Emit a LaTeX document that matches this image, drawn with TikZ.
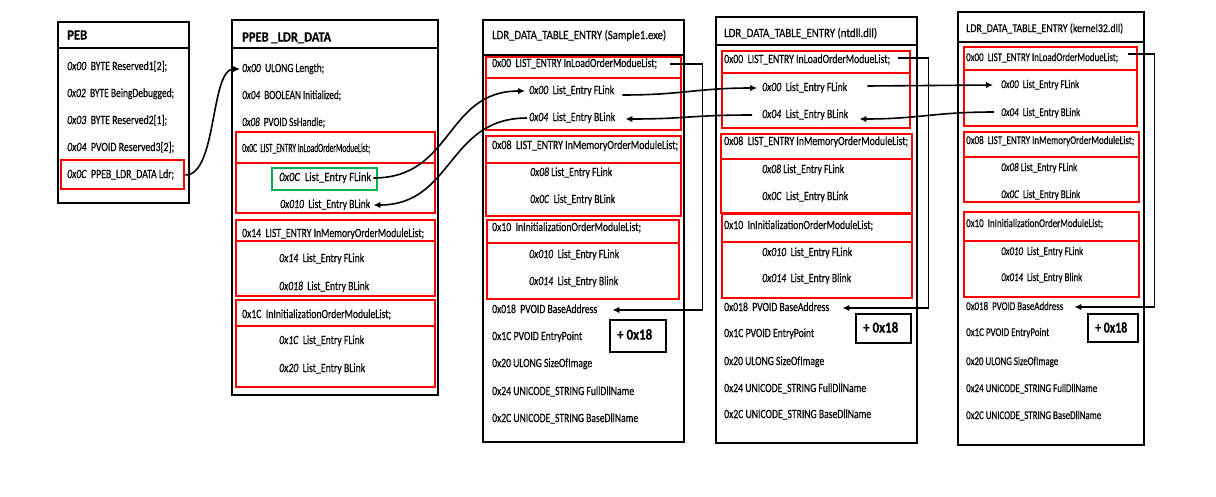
\documentclass[tikz,border=0pt]{standalone}
\usepackage{fontspec}
\setmainfont{Carlito}[FakeBold=0.35]
\usepackage{graphicx}
\usetikzlibrary{arrows.meta}
\newcommand{\fw}[2]{\resizebox{#1pt}{\height}{#2}}
\definecolor{rbox}{RGB}{255,0,0}
\definecolor{gbox}{RGB}{0,176,80}
\begin{document}
\begin{tikzpicture}[x=1pt,y=-1pt,
 txt/.style={anchor=west,inner sep=0pt,text height=8.5pt,text depth=2.5pt,yshift=-1pt,font=\fontsize{12.5}{14}\selectfont},
 ktxt/.style={txt,font=\fontsize{11.8}{13}\selectfont},
 ttl/.style={anchor=west,inner sep=0pt,text height=9.5pt,text depth=2.5pt,yshift=-1pt,font=\fontsize{14}{16}\selectfont\bfseries},
 plus/.style={anchor=west,inner sep=0pt,text height=9.5pt,text depth=2.5pt,yshift=-1pt,font=\fontsize{15}{17}\selectfont\bfseries},
 outer/.style={draw=black,line width=1.6pt},
 hline/.style={draw=black,line width=2.2pt},
 redb/.style={draw=rbox,line width=1.4pt},
 grnb/.style={draw=gbox,line width=2.4pt},
 pbox/.style={draw=black,line width=1.2pt},
 arr/.style={draw=black,line width=1.6pt,-{Latex[length=7pt,width=6.5pt]}},
 route/.style={draw=black,line width=1.4pt,-{Latex[length=7pt,width=6.5pt]}}]
\useasboundingbox (0,0) rectangle (1216,496);
\fill[white] (0,0) rectangle (1216,496);

% ---------------- PEB ----------------
\draw[outer] (58,22) rectangle (189,203);
\draw[hline] (58,48) -- (189,48);
\node[ttl] (pebt) at (67,35) {\fw{20}{PEB}};
\node[txt] (pebr1) at (67,66) {\fw{100}{\textit{0x00}\ \ BYTE Reserved1[2];}};
\node[txt] (pebr2) at (67,93) {\fw{107}{\textit{0x02}\ \ BYTE BeingDebugged;}};
\node[txt] (pebr3) at (67,120) {\fw{100}{\textit{0x03}\ \ BYTE Reserved2[1];}};
\node[txt] (pebr4) at (67,147) {\fw{107}{\textit{0x04}\ \ PVOID Reserved3[2];}};
\draw[redb] (61,160) rectangle (184,189);
\node[txt] (pebr5) at (67,174) {\fw{107}{\textit{0x0C}\ \ PPEB\_LDR\_DATA Ldr;}};

% ---------------- PPEB_LDR_DATA ----------------
\draw[outer] (232,20) rectangle (438,395);
\draw[hline] (232,48) -- (438,48);
\node[ttl] (ppt) at (242,37) {\fw{89}{PPEB \_LDR\_DATA}};
\node[txt] (pp1) at (242,68) {\fw{82}{\textit{0x00}\ \ ULONG Length;}};
\node[txt] (pp2) at (242,95) {\fw{99}{\textit{0x04}\ \ BOOLEAN Initialized;}};
\node[txt] (pp3) at (242,122) {\fw{83}{\textit{0x08}\ \ PVOID SsHandle;}};
\draw[redb] (236,132) rectangle (435,163);
\draw[redb] (236,163) rectangle (435,213);
\node[txt] (pph1) at (242,148) {\fw{128}{0x0C\ \ LIST\_ENTRY InLoadOrderModueList;}};
\draw[grnb] (272,168) rectangle (377,190);
\node[txt] (ppf1) at (279,177) {\fw{92}{\textit{0x0C}\ \ List\_Entry FLink}};
\node[txt] (ppb1) at (280,204) {\fw{90}{\textit{0x010}\ \ List\_Entry BLink}};
\draw[redb] (236,220) rectangle (435,241);
\draw[redb] (236,241) rectangle (435,296);
\node[txt] (pph2) at (242,233) {\fw{182}{0x14\ \ LIST\_ENTRY InMemoryOrderModuleList;}};
\node[txt] (ppf2) at (279,258) {\fw{85}{\textit{0x14}\ \ List\_Entry FLink}};
\node[txt] (ppb2) at (279,286) {\fw{90}{\textit{0x018}\ \ List\_Entry BLink}};
\draw[redb] (236,300) rectangle (435,326);
\draw[redb] (236,326) rectangle (435,387);
\node[txt] (pph3) at (242,314) {\fw{149}{0x1C\ \ InInitializationOrderModuleList;}};
\node[txt] (ppf3) at (279,340) {\fw{85}{\textit{0x1C}\ \ List\_Entry FLink}};
\node[txt] (ppb3) at (279,368) {\fw{86}{\textit{0x20}\ \ List\_Entry BLink}};

% ---------------- Sample1.exe ----------------
\draw[outer] (483,20) rectangle (684,442);
\draw[hline] (483,55) -- (684,55);
\node[txt] (st) at (492,35) {\fw{174}{LDR\_DATA\_TABLE\_ENTRY (Sample1.exe)}};
\draw[redb] (486,57) rectangle (681,78);
\draw[redb] (486,78) rectangle (681,130);
\node[txt] (sh1) at (492,63) {\fw{165}{0x00\ \ LIST\_ENTRY InLoadOrderModueList;}};
\node[txt] (sf1) at (529,90) {\fw{85}{\textit{0x00}\ \ List\_Entry FLink}};
\node[txt] (sb1) at (529,117) {\fw{86}{\textit{0x04}\ \ List\_Entry BLink}};
\draw[redb] (486,136) rectangle (681,163);
\draw[redb] (486,163) rectangle (681,216);
\node[txt] (sh2) at (492,145) {\fw{186}{0x08\ \ LIST\_ENTRY InMemoryOrderModuleList;}};
\node[txt] (sf2) at (530,172) {\fw{82}{\textit{0x08} List\_Entry FLink}};
\node[txt] (sb2) at (530,199) {\fw{85}{\textit{0x0C}\ \ List\_Entry BLink}};
\draw[redb] (487,220) rectangle (679,243);
\draw[redb] (487,243) rectangle (679,299);
\node[txt] (sh3) at (492,227) {\fw{149}{0x10\ \ InInitializationOrderModuleList;}};
\node[txt] (sf3) at (529,254) {\fw{90}{\textit{0x010}\ \ List\_Entry FLink}};
\node[txt] (sb3) at (529,281) {\fw{89}{\textit{0x014}\ \ List\_Entry Blink}};
\node[txt] (sba) at (492,309) {\fw{105}{0x018\ \ PVOID BaseAddress}};
\node[txt] (sep) at (492,336) {\fw{90}{0x1C PVOID EntryPoint}};
\node[txt] (ssz) at (492,363) {\fw{100}{0x20 ULONG SizeOfImage}};
\node[txt] (sfn) at (492,391) {\fw{142}{0x24 UNICODE\_STRING FullDllName}};
\node[txt] (sbn) at (492,418) {\fw{146}{0x2C UNICODE\_STRING BaseDllName}};
\draw[pbox] (610,320) rectangle (666,352);
\node[plus] (sp) at (617,335) {\fw{35}{+ 0x18}};

% ---------------- ntdll.dll ----------------
\draw[outer] (716,17) rectangle (917,443);
\draw[hline] (716,45) -- (917,45);
\node[txt] (nt) at (724,33) {\fw{153}{LDR\_DATA\_TABLE\_ENTRY (ntdll.dll)}};
\draw[redb] (722,51) rectangle (910,73);
\draw[redb] (722,73) rectangle (910,128);
\node[txt] (nh1) at (724,59) {\fw{166}{0x00\ \ LIST\_ENTRY InLoadOrderModueList;}};
\node[txt] (nf1) at (762,87) {\fw{85}{\textit{0x00}\ \ List\_Entry FLink}};
\node[txt] (nb1) at (762,114) {\fw{86}{\textit{0x04}\ \ List\_Entry BLink}};
\draw[redb] (721,134) rectangle (912,159);
\draw[redb] (721,159) rectangle (912,213);
\node[txt] (nh2) at (724,141) {\fw{184}{0x08\ \ LIST\_ENTRY InMemoryOrderModuleList;}};
\node[txt] (nf2) at (762,169) {\fw{82}{\textit{0x08} List\_Entry FLink}};
\node[txt] (nb2) at (762,196) {\fw{86}{\textit{0x0C}\ \ List\_Entry BLink}};
\draw[redb] (722,214) rectangle (912,242);
\draw[redb] (722,242) rectangle (912,298);
\node[txt] (nh3) at (724,225) {\fw{149}{0x10\ \ InInitializationOrderModuleList;}};
\node[txt] (nf3) at (762,252) {\fw{90}{\textit{0x010}\ \ List\_Entry FLink}};
\node[txt] (nb3) at (762,278) {\fw{89}{\textit{0x014}\ \ List\_Entry Blink}};
\node[txt] (nba) at (724,307) {\fw{105}{0x018\ \ PVOID BaseAddress}};
\node[txt] (nep) at (724,333) {\fw{90}{0x1C PVOID EntryPoint}};
\node[txt] (nsz) at (724,361) {\fw{100}{0x20 ULONG SizeOfImage}};
\node[txt] (nfn) at (724,388) {\fw{142}{0x24 UNICODE\_STRING FullDllName}};
\node[txt] (nbn) at (724,414) {\fw{147}{0x2C UNICODE\_STRING BaseDllName}};
\draw[pbox] (856,314) rectangle (911,343);
\node[plus] (np) at (863,328) {\fw{35}{+ 0x18}};

% ---------------- kernel32.dll ----------------
\draw[outer] (958,12) rectangle (1144,445);
\draw[hline] (958,42) -- (1144,42);
\node[ktxt] (kt) at (966,28) {\fw{157}{LDR\_DATA\_TABLE\_ENTRY (kernel32.dll)}};
\draw[redb] (964,47) rectangle (1137,70);
\draw[redb] (964,70) rectangle (1137,126);
\node[ktxt] (kh1) at (966,57) {\fw{152}{0x00\ \ LIST\_ENTRY InLoadOrderModueList;}};
\node[ktxt] (kf1) at (1001,84) {\fw{78}{\textit{0x00}\ \ List\_Entry FLink}};
\node[ktxt] (kb1) at (1001,112) {\fw{79}{\textit{0x04}\ \ List\_Entry BLink}};
\draw[redb] (964,132) rectangle (1139,157);
\draw[redb] (964,157) rectangle (1139,202);
\node[ktxt] (kh2) at (966,140) {\fw{168}{0x08\ \ LIST\_ENTRY InMemoryOrderModuleList;}};
\node[ktxt] (kf2) at (1001,167) {\fw{76}{\textit{0x08} List\_Entry FLink}};
\node[ktxt] (kb2) at (1001,194) {\fw{79}{\textit{0x0C}\ \ List\_Entry BLink}};
\draw[redb] (964,212) rectangle (1139,241);
\draw[redb] (964,241) rectangle (1139,297);
\node[ktxt] (kh3) at (966,223) {\fw{137}{0x10\ \ InInitializationOrderModuleList;}};
\node[ktxt] (kf3) at (1001,251) {\fw{82}{\textit{0x010}\ \ List\_Entry FLink}};
\node[ktxt] (kb3) at (1001,277) {\fw{81}{\textit{0x014}\ \ List\_Entry Blink}};
\node[ktxt] (kba) at (966,306) {\fw{97}{0x018\ \ PVOID BaseAddress}};
\node[ktxt] (kep) at (966,332) {\fw{83}{0x1C PVOID EntryPoint}};
\node[ktxt] (ksz) at (966,361) {\fw{92}{0x20 ULONG SizeOfImage}};
\node[ktxt] (kfn) at (966,388) {\fw{131}{0x24 UNICODE\_STRING FullDllName}};
\node[ktxt] (kbn) at (966,415) {\fw{135}{0x2C UNICODE\_STRING BaseDllName}};
\draw[pbox] (1088,314) rectangle (1138,342);
\node[plus] (kp) at (1095,328) {\fw{32}{+ 0x18}};

% ---------------- connectors ----------------
\draw[arr] ([xshift=11pt]pebr5.east) .. controls +(32,0) and +(-30,0) .. ([xshift=-2pt]pp1.west);
\draw[arr] ([xshift=2pt]ppf1.east) .. controls +(80,0) and +(-80,0) .. ([xshift=-4pt]sf1.west);
\draw[arr] ([xshift=-2pt]sb1.west) .. controls +(-80,0) and +(80,0) .. ([xshift=3pt]ppb1.east);
\draw[arr] ([xshift=8pt,yshift=-4pt]sf1.east) .. controls +(60,0) and +(-60,0) .. ([xshift=-5pt]nf1.west);
\draw[arr] ([xshift=-10pt]nb1.west) .. controls +(-60,0) and +(60,0) .. ([xshift=10pt,yshift=-1pt]sb1.east);
\draw[arr] ([xshift=20pt,yshift=2pt]nf1.east) -- ([xshift=-8pt]kf1.west);
\draw[arr] ([xshift=-7pt,yshift=1pt]kb1.west) .. controls +(-60,0) and +(60,0) .. ([xshift=11pt,yshift=-4pt]nb1.east);

\draw[route] ([xshift=13pt]sh1.east) -- ([xshift=45pt]sh1.east) |- ([xshift=15pt]sba.east);
\draw[route] ([xshift=8pt,yshift=2pt]nh1.east) -- ([xshift=38pt,yshift=2pt]nh1.east) |- ([xshift=13pt]nba.east);
\draw[route] ([xshift=10pt,yshift=4pt]kh1.east) -- ([xshift=36pt,yshift=4pt]kh1.east) |- ([xshift=11pt]kba.east);
\end{tikzpicture}
\end{document}
